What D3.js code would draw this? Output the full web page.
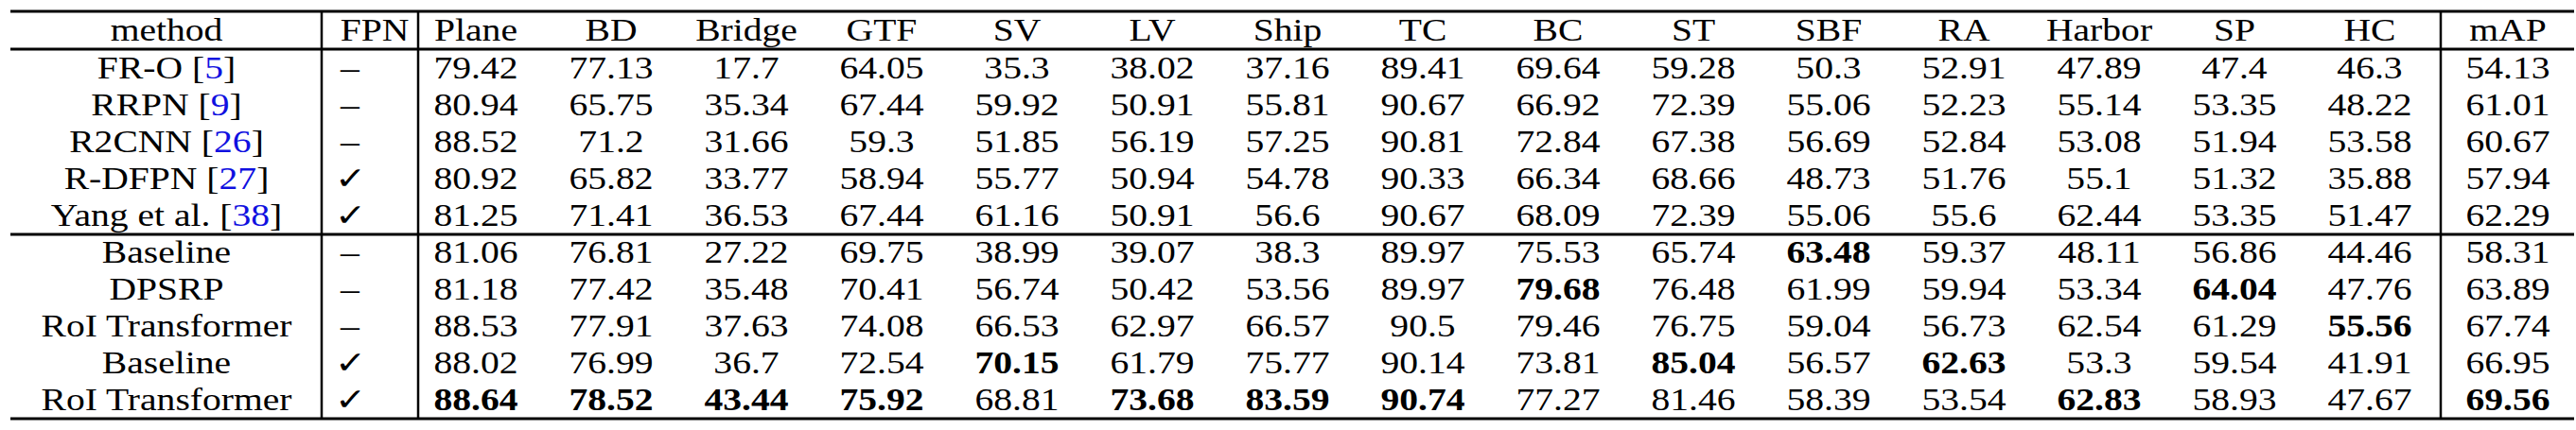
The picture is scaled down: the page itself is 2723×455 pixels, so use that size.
<!DOCTYPE html>
<html><head><meta charset="utf-8">
<script src="https://cdn.jsdelivr.net/npm/d3@7"></script>
<style>body{margin:0;background:#fff} text{font-family:"Liberation Serif","DejaVu Serif","Times New Roman",serif;}</style></head>
<body><svg id="c" width="2723" height="455"></svg>
<script>
const classes = ["Plane","BD","Bridge","GTF","SV","LV","Ship","TC","BC","ST","SBF","RA","Harbor","SP","HC"];
const methods = ["FR-O","RRPN","R2CNN","R-DFPN","Yang et al.","Baseline","DPSRP","RoI Transformer","Baseline","RoI Transformer"];
const refs = ["5","9","26","27","38","","","","",""];
const fpn = [false,false,false,true,true,false,false,false,true,true];
const values = [
[79.42,77.13,17.7,64.05,35.3,38.02,37.16,89.41,69.64,59.28,50.3,52.91,47.89,47.4,46.3],
[80.94,65.75,35.34,67.44,59.92,50.91,55.81,90.67,66.92,72.39,55.06,52.23,55.14,53.35,48.22],
[88.52,71.2,31.66,59.3,51.85,56.19,57.25,90.81,72.84,67.38,56.69,52.84,53.08,51.94,53.58],
[80.92,65.82,33.77,58.94,55.77,50.94,54.78,90.33,66.34,68.66,48.73,51.76,55.1,51.32,35.88],
[81.25,71.41,36.53,67.44,61.16,50.91,56.6,90.67,68.09,72.39,55.06,55.6,62.44,53.35,51.47],
[81.06,76.81,27.22,69.75,38.99,39.07,38.3,89.97,75.53,65.74,63.48,59.37,48.11,56.86,44.46],
[81.18,77.42,35.48,70.41,56.74,50.42,53.56,89.97,79.68,76.48,61.99,59.94,53.34,64.04,47.76],
[88.53,77.91,37.63,74.08,66.53,62.97,66.57,90.5,79.46,76.75,59.04,56.73,62.54,61.29,55.56],
[88.02,76.99,36.7,72.54,70.15,61.79,75.77,90.14,73.81,85.04,56.57,62.63,53.3,59.54,41.91],
[88.64,78.52,43.44,75.92,68.81,73.68,83.59,90.74,77.27,81.46,58.39,53.54,62.83,58.93,47.67]];
const mAP = [54.13,61.01,60.67,57.94,62.29,58.31,63.89,67.74,66.95,69.56];
const boldCells = [[5,"SBF"],[6,"BC"],[6,"SP"],[7,"HC"],[8,"SV"],[8,"ST"],[8,"RA"],
 [9,"Plane"],[9,"BD"],[9,"Bridge"],[9,"GTF"],[9,"LV"],[9,"Ship"],[9,"TC"],[9,"Harbor"],[9,"mAP"]];

const svg = d3.select("#c");
const FS = 33, SX = 1.2;
const x = d3.scalePoint().domain(classes).range([503, 2505]);
const y = d3.scaleBand().domain(d3.range(10)).range([52, 443]);
const isBold = (r,c) => boldCells.some(b => b[0]===r && b[1]===c);

function txt(cx, cy, s, bold, fill) {
  const g = svg.append("g").attr("transform", `translate(${cx},${cy}) scale(${SX},1)`);
  g.append("text").attr("text-anchor","middle").attr("font-size",FS)
   .attr("font-weight", bold ? "bold" : "normal").attr("fill", fill||"#000").text(s);
  return g;
}
const base = r => y(r) + y.bandwidth()/2 + 11;
const hy = 32 + 11;
txt(176, hy, "method");
txt(396, hy, "FPN");
classes.forEach(c => txt(x(c), hy, c));
txt(2651, hy, "mAP");

values.forEach((row, r) => {
  const g = svg.append("g").attr("transform", `translate(176,${base(r)}) scale(${SX},1)`);
  const t = g.append("text").attr("text-anchor","middle").attr("font-size",FS);
  t.append("tspan").text(methods[r]);
  if (refs[r]) {
    t.append("tspan").text(" [");
    t.append("tspan").attr("fill","#1010e0").text(refs[r]);
    t.append("tspan").text("]");
  }
  txt(370, base(r), fpn[r] ? "\u2713" : "\u2013");
  row.forEach((v, i) => txt(x(classes[i]), base(r), String(v), isBold(r, classes[i])));
  txt(2651, base(r), String(mAP[r]), isBold(r, "mAP"));
});

const L = 11, R = 2721;
[12,52,248,443].forEach(yy =>
  svg.append("line").attr("x1",L).attr("x2",R).attr("y1",yy).attr("y2",yy).attr("stroke","#000").attr("stroke-width",3));
[340,442,2580].forEach(xx =>
  svg.append("line").attr("x1",xx).attr("x2",xx).attr("y1",12).attr("y2",443).attr("stroke","#000").attr("stroke-width",2.5));
</script></body></html>
